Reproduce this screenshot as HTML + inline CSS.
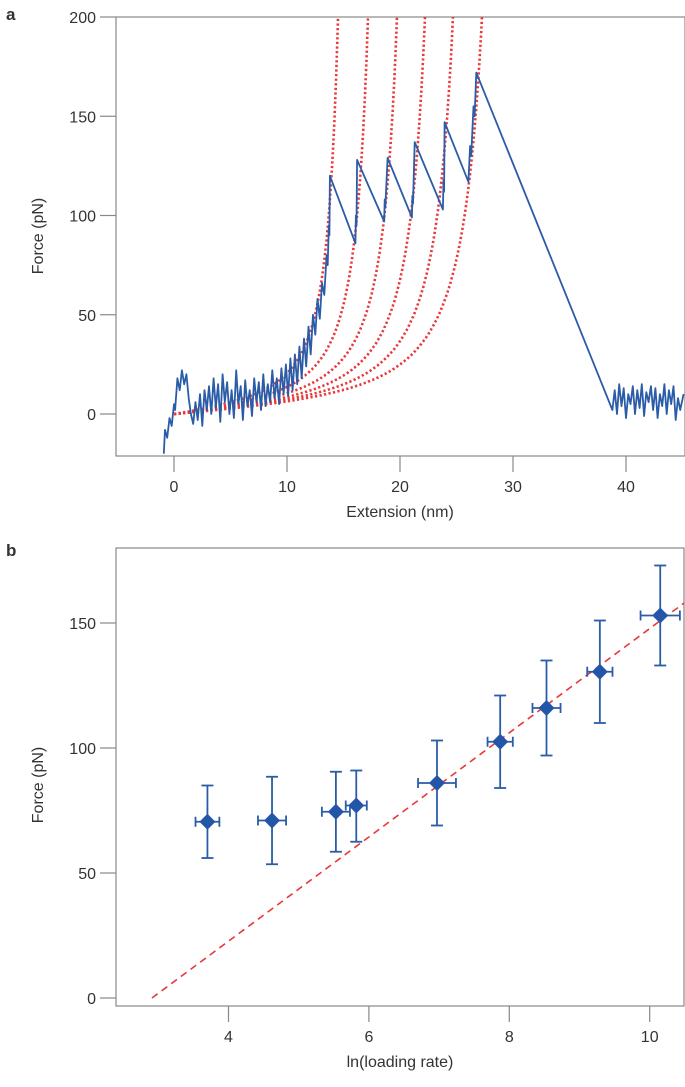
<!DOCTYPE html>
<html><head><meta charset="utf-8"><style>
body{margin:0;background:#fff}
svg text{font-family:"Liberation Sans",sans-serif;fill:#333}
</style></head><body>
<svg id="s" width="685" height="1082" xmlns="http://www.w3.org/2000/svg">
<text x="6" y="20" font-size="17" font-weight="bold">a</text>
<text x="6" y="556" font-size="17" font-weight="bold">b</text>
<g id="ga"></g>
<g id="gb"></g>
</svg>
<script>
const NS="http://www.w3.org/2000/svg";
// Panel a data
const aXTicks=[0,10,20,30,40];
const aYTicks=[0,50,100,150,200];
const contourLengths=[16.4,19.4,22.3,25.1,27.9,30.8];
const traceX=[-0.9,-0.8,-0.6,-0.4,-0.2,0,0.1,0.3,0.5,0.7,0.9,1.1,1.3,1.5,1.7,1.9,2.1,2.3,2.5,2.7,2.9,3.1,3.3,3.5,3.7,3.9,4.1,4.3,4.5,4.7,4.9,5.1,5.3,5.5,5.7,5.9,6.1,6.3,6.5,6.7,6.9,7.1,7.3,7.5,7.7,7.9,8.1,8.3,8.5,8.7,8.9,9.1,9.3,9.5,9.7,9.9,10.1,10.3,10.5,10.7,10.9,11.1,11.3,11.5,11.7,11.9,12.1,12.3,12.5,12.7,12.9,13.1,13.3,13.5,13.6,13.7,13.75,13.8,16.05,16.1,16.15,16.2,18.6,18.65,18.7,18.9,21.05,21.1,21.15,21.3,23.8,23.85,23.9,23.95,26.05,26.2,26.3,26.5,26.6,26.75,38.8,39.0,39.2,39.4,39.6,39.8,40.0,40.2,40.4,40.6,40.8,41.0,41.2,41.4,41.6,41.8,42.0,42.2,42.4,42.6,42.8,43.0,43.2,43.4,43.6,43.8,44.0,44.2,44.4,44.6,44.8,45.1];
const traceF=[-20,-8,-12,-2,-6,5,2,18,12,22,15,20,8,0,-5,6,-3,10,-6,12,2,14,0,18,3,15,-4,20,6,16,0,12,-2,22,5,14,-3,17,4,12,-1,18,6,16,2,20,4,15,6,22,8,18,5,23,10,25,9,28,12,30,15,34,18,38,24,44,30,50,40,58,48,66,60,80,75,95,90,120,86,100,95,128,97,108,104,129,99,110,106,137,103,118,112,147,117,135,130,155,150,172,2,12,0,15,4,13,-2,10,5,14,0,12,3,15,-1,11,6,14,2,13,-2,10,4,15,0,12,5,14,-3,8,2,10];
// Panel b data
const bXTicks=[4,6,8,10];
const bYTicks=[0,50,100,150];
const rateX=[3.7,4.62,5.53,5.82,6.97,7.87,8.53,9.29,10.15];
const forceY=[70.5,71,74.5,77,86,102.5,116,130.5,153];
const errLo=[56,53.5,58.5,62.5,69,84,97,110,133];
const errHi=[85,88.5,90.5,91,103,121,135,151,173];
const errX=[0.17,0.2,0.2,0.15,0.27,0.18,0.2,0.18,0.28];
const fitX=[2.91,10.49];
const fitY=[0,158];

function el(p,t,a){const e=document.createElementNS(NS,t);for(const k in a)e.setAttribute(k,a[k]);p.appendChild(e);return e;}
function axes(g,box,sx,sy,xt,yt,xl,yl,xlx,ylY){
  const f=el(g,'rect',{x:box[0],y:box[1],width:box[2]-box[0],height:box[3]-box[1],fill:'none',stroke:'#888','stroke-width':1.2});
  
  xt.forEach(v=>{const x=sx(v);el(g,'line',{x1:x,x2:x,y1:box[3],y2:box[3]+16,stroke:'#888','stroke-width':1.2});
    const t=el(g,'text',{x:x,y:box[3]+36,'font-size':16,'text-anchor':'middle'});t.textContent=v;
    });
  yt.forEach(v=>{const y=sy(v);el(g,'line',{x1:box[0]-16,x2:box[0],y1:y,y2:y,stroke:'#888','stroke-width':1.2});
    const t=el(g,'text',{x:box[0]-20,y:y+6,'font-size':16,'text-anchor':'end'});t.textContent=v;
    });
  const a=el(g,'text',{x:xlx,y:box[3]+61,'font-size':16,'text-anchor':'middle'});a.textContent=xl;
  
  const b=el(g,'text',{x:0,y:0,'font-size':16,'text-anchor':'middle',transform:`translate(43,${ylY}) rotate(-90)`});b.textContent=yl;
  
}
// Panel a
{
const g=document.getElementById('ga');
const sx=v=>174+v*11.3, sy=v=>414-v*1.985;
axes(g,[116,17,685,456],sx,sy,aXTicks,aYTicks,'Extension (nm)','Force (pN)',400,236);
const defs=el(g,'clipPath',{id:'ca'});el(defs,'rect',{x:116,y:17,width:569,height:439});
const c=el(g,'g',{'clip-path':'url(#ca)'});
const A=10.25;
contourLengths.forEach(L=>{let pts=[];for(let x=0;x<L*0.9;x+=0.05){const r=x/L;const F=A*(1/(4*(1-r)*(1-r))-0.25+r);pts.push(sx(x).toFixed(1)+','+sy(F).toFixed(1));if(F>210)break;}
  const p=el(c,'polyline',{points:pts.join(' '),fill:'none',stroke:'#e8383a','stroke-width':2.6,'stroke-dasharray':'2.2 2.4'});
  });
const tp=el(c,'polyline',{points:traceX.map((x,i)=>sx(x).toFixed(1)+','+sy(traceF[i]).toFixed(1)).join(' '),fill:'none',stroke:'#2a5ca8','stroke-width':1.8,'stroke-linejoin':'round'});

}
// Panel b
{
const g=document.getElementById('gb');
const sx=v=>228.5+(v-4)*70.2, sy=v=>998-v*2.5;
axes(g,[116,548,684,1006],sx,sy,bXTicks,bYTicks,'ln(loading rate)','Force (pN)',400,785);
const l=el(g,'line',{x1:sx(fitX[0]),y1:sy(fitY[0]),x2:sx(fitX[1]),y2:sy(fitY[1]),stroke:'#e8383a','stroke-width':1.6,'stroke-dasharray':'7 5'});

rateX.forEach((x,i)=>{const X=sx(x),Y=sy(forceY[i]);const s={stroke:'#2a5ca8','stroke-width':1.8};
  const e1=el(g,'line',{x1:X,x2:X,y1:sy(errLo[i]),y2:sy(errHi[i]),...s});
  
  [errLo[i],errHi[i]].forEach(v=>el(g,'line',{x1:X-6,x2:X+6,y1:sy(v),y2:sy(v),...s}));
  const x1=sx(x-errX[i]),x2=sx(x+errX[i]);
  const e2=el(g,'line',{x1:x1,x2:x2,y1:Y,y2:Y,...s});
  
  [x1,x2].forEach(v=>el(g,'line',{x1:v,x2:v,y1:Y-5,y2:Y+5,...s}));
  const d=el(g,'polygon',{points:`${X},${Y-8} ${X+8},${Y} ${X},${Y+8} ${X-8},${Y}`,fill:'#2356a8'});
  });
}
</script>
</body></html>
